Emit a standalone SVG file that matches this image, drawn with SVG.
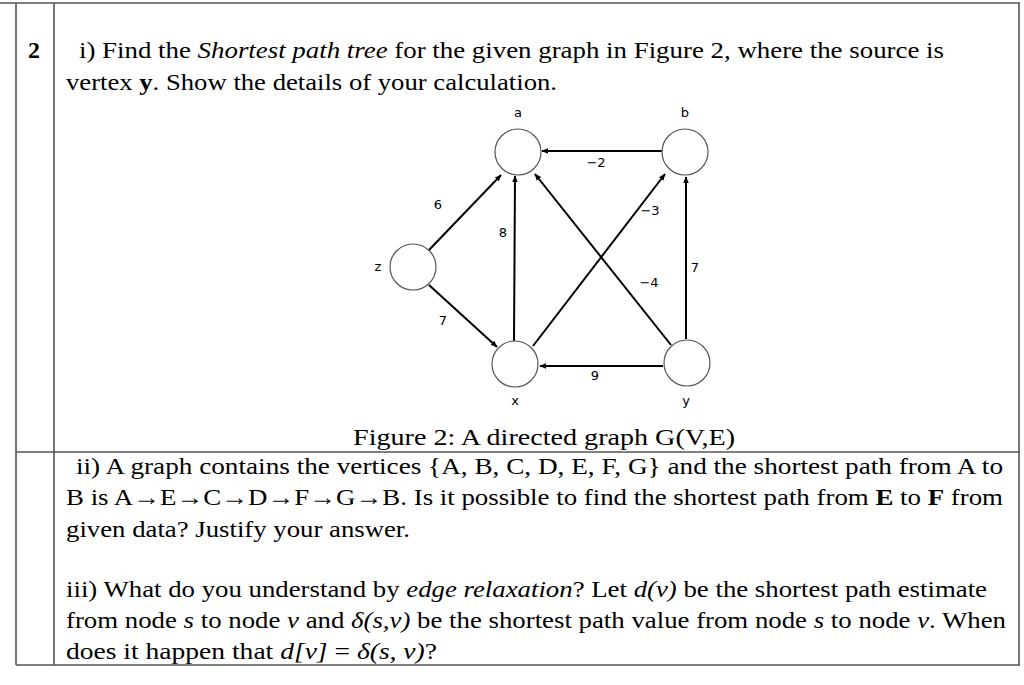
<svg xmlns="http://www.w3.org/2000/svg" width="1024" height="685" viewBox="0 0 1024 685">
<defs>
<marker id="ah" viewBox="0 0 10 10" refX="9" refY="5" markerWidth="7" markerHeight="7" orient="auto" markerUnits="userSpaceOnUse"><path d="M0,1 L10,5 L0,9 z" fill="#000"/></marker>
<style>
.t{font-family:"Liberation Serif",serif;font-size:24px;fill:#000}
.s{font-family:"DejaVu Sans","Liberation Sans",sans-serif;font-size:13px;fill:#000}
.n{fill:#fff;stroke:#555;stroke-width:1.2}
.e{stroke:#000;stroke-width:2;fill:none;marker-end:url(#ah)}
.g{stroke:#555;stroke-width:1.6;fill:none}
</style>
</defs>
<g id="table">
<path class="g" d="M0,3 H1020 M16,3 V665 M54,3 V665 M1019,3 V665 M16,452 H1020 M16,665 H1020"/>
</g>
<g id="text">
<text class="t" x="28" y="58" font-weight="bold">2</text>
<text class="t" x="79" y="58" textLength="865" lengthAdjust="spacingAndGlyphs">i) Find the <tspan font-style="italic">Shortest path tree</tspan> for the given graph in Figure 2, where the source is</text>
<text class="t" x="66" y="90" textLength="491" lengthAdjust="spacingAndGlyphs">vertex <tspan font-weight="bold">y</tspan>. Show the details of your calculation.</text>
<text class="t" x="353" y="445" textLength="382" lengthAdjust="spacingAndGlyphs">Figure 2: A directed graph G(V,E)</text>
<text class="t" x="76" y="474" textLength="927" lengthAdjust="spacingAndGlyphs">ii) A graph contains the vertices {A, B, C, D, E, F, G} and the shortest path from A to</text>
<text class="t" x="66" y="505" textLength="937" lengthAdjust="spacingAndGlyphs">B is A→E→C→D→F→G→B. Is it possible to find the shortest path from <tspan font-weight="bold">E</tspan> to <tspan font-weight="bold">F</tspan> from</text>
<text class="t" x="66" y="537" textLength="344" lengthAdjust="spacingAndGlyphs">given data? Justify your answer.</text>
<text class="t" x="66" y="597" textLength="921" lengthAdjust="spacingAndGlyphs">iii) What do you understand by <tspan font-style="italic">edge relaxation</tspan>? Let <tspan font-style="italic">d(v)</tspan> be the shortest path estimate</text>
<text class="t" x="66" y="628" textLength="940" lengthAdjust="spacingAndGlyphs">from node <tspan font-style="italic">s</tspan> to node <tspan font-style="italic">v</tspan> and <tspan font-style="italic">δ(s,v)</tspan> be the shortest path value from node <tspan font-style="italic">s</tspan> to node <tspan font-style="italic">v</tspan>. When</text>
<text class="t" x="66" y="659" textLength="371" lengthAdjust="spacingAndGlyphs">does it happen that <tspan font-style="italic">d[v]</tspan> = <tspan font-style="italic">δ(s, v)</tspan>?</text>
</g>
<g id="connectors">
<line class="e" x1="662" y1="151" x2="542" y2="151"/>
<line class="e" x1="429" y1="250" x2="501" y2="175"/>
<line class="e" x1="429" y1="285" x2="497" y2="347"/>
<line class="e" x1="514" y1="342" x2="515" y2="176"/>
<line class="e" x1="533" y1="346" x2="665" y2="174"/>
<line class="e" x1="671" y1="345" x2="535" y2="174"/>
<line class="e" x1="686" y1="339" x2="686" y2="177"/>
<line class="e" x1="663" y1="366" x2="540" y2="366"/>
<g class="s">
<text x="596" y="167" text-anchor="middle">−2</text>
<text x="438" y="209" text-anchor="middle">6</text>
<text x="503" y="237" text-anchor="middle">8</text>
<text x="650" y="215" text-anchor="middle">−3</text>
<text x="695" y="272" text-anchor="middle">7</text>
<text x="649" y="287" text-anchor="middle">−4</text>
<text x="443" y="325" text-anchor="middle">7</text>
<text x="595" y="380" text-anchor="middle">9</text>
</g>
</g>
<g id="node-a"><circle class="n" cx="518" cy="152" r="23"/><text class="s" x="518" y="117" text-anchor="middle">a</text></g>
<g id="node-b"><circle class="n" cx="685" cy="152" r="23"/><text class="s" x="685" y="117" text-anchor="middle">b</text></g>
<g id="node-z"><circle class="n" cx="413" cy="267" r="23"/><text class="s" x="378" y="271" text-anchor="middle">z</text></g>
<g id="node-x"><circle class="n" cx="515" cy="364" r="23"/><text class="s" x="515" y="405" text-anchor="middle">x</text></g>
<g id="node-y"><circle class="n" cx="687" cy="363" r="23"/><text class="s" x="686" y="405" text-anchor="middle">y</text></g>
</svg>
